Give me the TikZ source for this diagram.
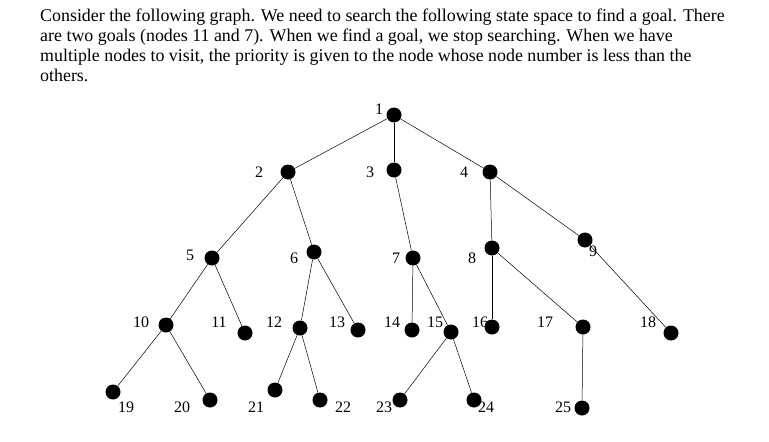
\documentclass[tikz,border=0pt]{standalone}
\usepackage{fontspec}
\setmainfont{Liberation Serif}
\begin{document}
\begin{tikzpicture}[x=1pt,y=-1pt,
  dot/.style={circle,fill=black,inner sep=0pt,minimum size=15pt},
  lab/.style={font=\fontsize{16}{18}\selectfont,inner sep=0pt},
  edge/.style={draw,line width=0.5pt}]
\useasboundingbox (0,0) rectangle (769,442);
\node[anchor=north west,align=left,inner sep=0pt,font=\fontsize{17.9}{20}\selectfont] (txt) at (40,9)
{Consider the following graph. We need to search the following state space to find a goal. There\\
are two goals (nodes 11 and 7). When we find a goal, we stop searching. When we have\\
multiple nodes to visit, the priority is given to the node whose node number is less than the\\
others.};
\foreach \n/\x/\y/\lx/\ly in {1/394/115/379/109,2/288/172/259/172,3/394/170/370/172,4/490/172/464/172,
5/212/258/190/255,6/314/252/294/258,7/413/258/396/258,8/492/248/472/258,9/585/240/593/251,
10/166/325/141/322,11/245/333/219/322,12/300/328/274/322,13/358/330/337/322,14/412/330/392/322,
15/451/332/435/322,16/492/327/480/322,17/583/327/545/322,18/671/333/648/322,
19/113/392/126/407,20/210/400/182/407,21/275/390/256/407,22/320/400/343/407,
23/400/400/384/407,24/474/400/486/407,25/582/408/563/407}{
  \node[dot] (n\n) at (\x,\y) {};
  \node[lab] (l\n) at (\lx,\ly) {\n};
}
\foreach \a/\b in {1/2,1/3,1/4,2/5,2/6,3/7,4/8,4/9,5/10,5/11,6/12,6/13,7/14,7/15,8/16,8/17,9/18,
10/19,10/20,12/21,12/22,15/23,15/24,17/25}{
  \draw[edge] (n\a) -- (n\b);
}
\end{tikzpicture}
\end{document}
